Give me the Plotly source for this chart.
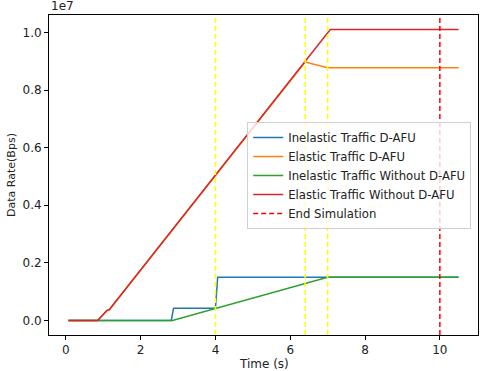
import plotly.graph_objects as go

# time (s) / data rate (Bps) breakpoints
inelastic_dafu_t = [0.07, 2.82, 2.88, 4.0, 4.06, 10.5]
inelastic_dafu_r = [0, 0, 0.42e6, 0.42e6, 1.5e6, 1.5e6]

elastic_dafu_t = [0.07, 0.85, 1.1, 1.16, 6.4, 7.0, 10.5]
elastic_dafu_r = [0, 0, 0.35e6, 0.37e6, 8.97e6, 8.77e6, 8.77e6]

inelastic_no_t = [0.07, 2.85, 7.0, 10.5]
inelastic_no_r = [0, 0, 1.5e6, 1.5e6]

elastic_no_t = [0.07, 0.85, 1.1, 1.16, 7.07, 10.5]
elastic_no_r = [0, 0, 0.35e6, 0.37e6, 10.1e6, 10.1e6]

marker_times = [4.0, 6.4, 7.0]
end_time = 10

xticks = [0, 2, 4, 6, 8, 10]
yticks = [0, 2e6, 4e6, 6e6, 8e6, 10e6]
ytick_text = ["0.0", "0.2", "0.4", "0.6", "0.8", "1.0"]

fig = go.Figure()
fig.add_trace(go.Scatter(x=inelastic_dafu_t, y=inelastic_dafu_r, mode="lines",
                         name="Inelastic Traffic D-AFU", line=dict(color="#1f77b4", width=1.5)))
fig.add_trace(go.Scatter(x=elastic_dafu_t, y=elastic_dafu_r, mode="lines",
                         name="Elastic Traffic D-AFU", line=dict(color="#ff7f0e", width=1.5)))
fig.add_trace(go.Scatter(x=inelastic_no_t, y=inelastic_no_r, mode="lines",
                         name="Inelastic Traffic Without D-AFU", line=dict(color="#2ca02c", width=1.5)))
fig.add_trace(go.Scatter(x=elastic_no_t, y=elastic_no_r, mode="lines",
                         name="Elastic Traffic Without D-AFU", line=dict(color="#d62728", width=1.5)))

for t in marker_times:
    fig.add_vline(x=t, line=dict(color="yellow", width=1.5, dash="5px,3px"))
fig.add_vline(x=end_time, line=dict(color="red", width=1.5, dash="5px,3px"),
              showlegend=True, name="End Simulation")

font = dict(family="DejaVu Sans", size=12, color="#222222")
legend_font = dict(family="DejaVu Sans", size=11.7, color="#222222")
fig.update_layout(
    width=483, height=371,
    margin=dict(l=49, r=5, t=15, b=36, autoexpand=False),
    plot_bgcolor="white", paper_bgcolor="white",
    font=font,
    showlegend=True,
    legend=dict(x=0.462, y=0.666, xanchor="left", yanchor="top",
                bgcolor="rgba(255,255,255,0.8)", bordercolor="#d0d0d0", borderwidth=1,
                font=legend_font, tracegroupgap=0, itemwidth=30),
)
fig.update_xaxes(range=[-0.45, 11.02], tickvals=xticks, ticks="outside", ticklen=4,
                 tickcolor="black", showline=True, linecolor="black", linewidth=1,
                 mirror=True, showgrid=False, zeroline=False, automargin=False)
fig.update_yaxes(range=[-0.505e6, 10.605e6], tickvals=yticks, ticktext=ytick_text,
                 ticks="outside", ticklen=4, tickcolor="black", showline=True,
                 linecolor="black", linewidth=1, mirror=True, showgrid=False, zeroline=False,
                 automargin=False,
                 title=dict(text="Data Rate(Bps)", standoff=4,
                            font=dict(family="DejaVu Sans", size=11, color="#222222")))
# x title as an annotation so it can sit a little lower, as in the original
fig.add_annotation(text="Time (s)", xref="paper", yref="paper", x=0.5, y=0,
                   xanchor="center", yanchor="top", yshift=-20, showarrow=False, font=font)
fig.add_annotation(text="1e7", xref="paper", yref="paper", x=0, y=1,
                   xanchor="left", yanchor="bottom", showarrow=False, font=font)

# the page's default body margin would push the figure 8px off the corner
fig.write_html("out.html", config={"displayModeBar": False},
               post_script="document.body.style.margin='0';")
